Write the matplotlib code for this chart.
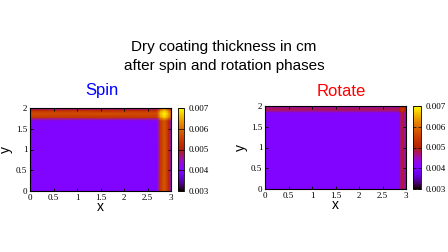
import numpy as np
import matplotlib.pyplot as plt

# coarse profiles (thickness in cm)
spin_x = [0.0, 2.70, 2.78, 2.86, 2.95, 3.0]
spin_px = [0.0040, 0.0040, 0.0054, 0.0058, 0.0052, 0.0043]
spin_y = [0.0, 1.70, 1.78, 1.87, 1.95, 2.0]
spin_py = [0.0040, 0.0040, 0.0054, 0.0057, 0.0052, 0.0042]

rot_x = [0.0, 2.84, 2.88, 2.92, 2.96, 3.0]
rot_px = [0.0040, 0.0040, 0.0046, 0.0049, 0.0047, 0.0042]
rot_y = [0.0, 1.84, 1.88, 1.92, 1.96, 2.0]
rot_py = [0.0040, 0.0040, 0.0046, 0.0048, 0.0047, 0.0042]

base = 0.0040
vmin, vmax = 0.003, 0.007
cticks = [0.003, 0.004, 0.005, 0.006, 0.007]
xticks = [0, 0.5, 1, 1.5, 2, 2.5, 3]
yticks = [0, 0.5, 1, 1.5, 2]

W, H = 448, 252
fig = plt.figure(figsize=(W / 100, H / 100), dpi=100)
serif = 'Liberation Serif'
sans = 'Liberation Sans'


def box(l, t, w, h):
    return [l / W, 1 - (t + h) / H, w / W, h / H]


def panel(ax_box, cb_box, xs, px, ys, py, title, tcol, tpos):
    ax = fig.add_axes(box(*ax_box))
    X, Y = np.meshgrid(xs, ys)
    PX = np.array(px)[None, :]
    PY = np.array(py)[:, None]
    Z = np.maximum(PX, PY) + 0.7 * (np.minimum(PX, PY) - base)
    m = ax.pcolormesh(X, Y, Z, cmap='gnuplot', vmin=vmin, vmax=vmax,
                      shading='gouraud')
    ax.set_xlim(0, 3)
    ax.set_ylim(0, 2)
    ax.set_xticks(xticks)
    ax.set_xticklabels(['0', '0.5', '1', '1.5', '2', '2.5', '3'])
    ax.set_yticks(yticks)
    ax.set_yticklabels(['0', '0.5', '1', '1.5', '2'])
    ax.tick_params(direction='in', top=True, right=True, length=2.5,
                   width=0.6, labelsize=6.5, pad=2)
    for lab in ax.get_xticklabels() + ax.get_yticklabels():
        lab.set_family(serif)
    for s in ax.spines.values():
        s.set_linewidth(0.8)
    ax.set_xlabel('x', fontsize=10, family=sans, labelpad=-1)
    ax.set_ylabel('y', fontsize=10, family=sans, labelpad=2, rotation=90)

    cax = fig.add_axes(box(*cb_box))
    cb = fig.colorbar(m, cax=cax, ticks=cticks)
    cb.ax.set_yticklabels(['%.3f' % v for v in cticks])
    cb.ax.tick_params(direction='in', left=True, right=True, length=2,
                      width=0.5, labelsize=6.5, pad=3)
    for lab in cb.ax.get_yticklabels():
        lab.set_family(serif)
    cb.outline.set_linewidth(0.6)

    fig.text(tpos[0] / W, 1 - tpos[1] / H, title, color=tcol, fontsize=12,
             family=sans, ha='center', va='center')


panel((30, 108, 141, 83), (178, 108, 6, 83), spin_x, spin_px, spin_y, spin_py,
      'Spin', 'blue', (102, 90))
panel((265, 106, 141, 83), (413, 106, 8, 83), rot_x, rot_px, rot_y, rot_py,
      'Rotate', 'red', (341, 91))

fig.text(0.5, 1 - 47 / H, 'Dry coating thickness in cm', fontsize=11,
         family=sans, ha='center', va='center')
fig.text(0.5, 1 - 66 / H, 'after spin and rotation phases', fontsize=11,
         family=sans, ha='center', va='center')

fig.savefig('out.png', dpi=100)
